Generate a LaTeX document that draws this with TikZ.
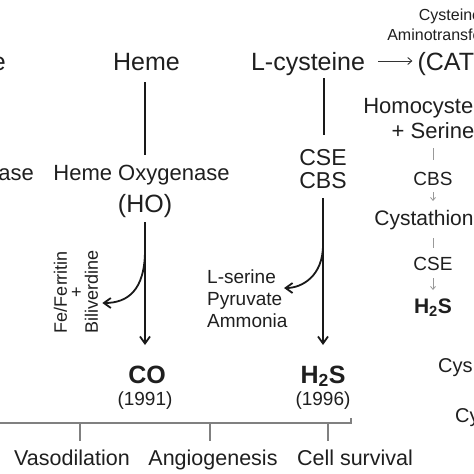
\documentclass[tikz,border=0pt]{standalone}
\usepackage{fontspec}
\setmainfont{Liberation Sans}
\usetikzlibrary{arrows.meta,calc}
\newcommand\fsz[1]{\fontsize{#1}{#1}\selectfont}
\begin{document}
\begin{tikzpicture}[x=1pt,y=-1pt,
  txt/.style={inner sep=0pt,anchor=base,text=black!88},
  mainline/.style={line width=1.8pt,black!90},
  arr/.style={-{Straight Barb[length=7pt,width=10pt]}},
  thinarr/.style={line width=0.9pt,black!80,-{Straight Barb[length=4pt,width=7pt]}},
  axisline/.style={line width=1.2pt,black!50},
  smallline/.style={line width=0.8pt,black!40},
  smallarr/.style={line width=0.8pt,black!40,-{Straight Barb[length=3pt,width=5pt]}}]
\useasboundingbox[fill=white] (0,0) rectangle (474,474);

% left column (cut)
\node[txt,font=\fsz{25},anchor=base east] (e) at (6,70) {e};
\node[txt,font=\fsz{22},anchor=base east] (ase) at (34,180) {ase};

% Heme column
\node[txt,font=\fsz{25}] (heme) at (146.5,70) {Heme};
\node[txt,font=\fsz{22}] (heox) at (141.5,180) {Heme Oxygenase};
\node[txt,font=\fsz{25}] (ho) at (145,212) {(HO)};
\node[txt,font=\bfseries\fsz{25}] (co) at (147,383) {CO};
\node[txt,font=\fsz{19}] (y1991) at (145,405) {(1991)};
\node[rotate=90,align=center,inner sep=0pt,text=black!88,font=\fontsize{18}{15.5}\selectfont] (fe) at (76,292) {Fe/Ferritin\\+\\Biliverdine};

\draw[mainline] ($(heme.base)+(-1.5,12)$) -- ($(heox.base -| ho.base)+(0,-25)$);
\draw[mainline,arr] ($(ho.base)+(0,10)$) -- ($(co.base -| ho.base)+(0,-38)$);
\coordinate (hob) at (145,250);
\draw[mainline,arr] (hob) .. controls (145,290) and (128,303) .. ($(fe.south)+(4,11)$);

% L-cysteine column
\node[txt,font=\fsz{25}] (lcys) at (308,70) {L-cysteine};
\node[txt,font=\fsz{23}] (cse) at (323,165) {CSE};
\node[txt,font=\fsz{23}] (cbs) at (323,188) {CBS};
\node[txt,font=\bfseries\fsz{25}] (hs) at (323,383) {H\textsubscript{2}S};
\node[txt,font=\fsz{19}] (y1996) at (323,405) {(1996)};
\node[txt,font=\fsz{19},anchor=base west] (ls1) at (207,283) {L-serine};
\node[txt,font=\fsz{19},anchor=base west] (ls2) at (207,305) {Pyruvate};
\node[txt,font=\fsz{19},anchor=base west] (ls3) at (207,327) {Ammonia};

\draw[mainline] ($(cse.base |- lcys.base)+(1,8)$) -- ($(cse.base)+(1,-30)$);
\draw[mainline,arr] ($(cbs.base)+(0,10)$) -- ($(hs.base)+(0,-38)$);
\coordinate (csb) at (323,245);
\draw[mainline,arr] (csb) .. controls (323,276) and (302,288) .. ($(ls1.base east)+(8,5)$);

% CAT
\node[txt,font=\fsz{16}] (cysn) at (450,20) {Cysteine};
\node[txt,font=\fsz{16}] (amt) at (450,40) {Aminotransferase};
\node[txt,font=\fsz{25}] (cat) at (450,70) {(CAT)};
\draw[thinarr] ($(lcys.base east)+(13,-9)$) -- ($(cat.base west)+(-5,-9)$);

% right pathway
\node[txt,font=\fsz{22}] (hcy) at (433,113) {Homocysteine};
\node[txt,font=\fsz{22}] (ser) at (433,138) {+ Serine};
\node[txt,font=\fsz{19}] (cbs2) at (433,185) {CBS};
\node[txt,font=\fsz{21}] (cth) at (438,225) {Cystathionine};
\node[txt,font=\fsz{19}] (cse2) at (433,270) {CSE};
\node[txt,font=\bfseries\fsz{21}] (hs2) at (433,313) {H\textsubscript{2}S};
\node[txt,font=\fsz{20},anchor=base west] (cysa) at (438,372) {Cys};
\node[txt,font=\fsz{20},anchor=base west] (cyb) at (455,422) {Cy};

\draw[smallline] ($(ser.base)+(0,10)$) -- ($(cbs2.base)+(0,-25)$);
\draw[smallarr] ($(cbs2.base)+(0,7)$) -- ($(cth.base -| cbs2.base)+(0,-24)$);
\draw[smallline] ($(cth.base -| cse2.base)+(0,13)$) -- ($(cse2.base)+(0,-22)$);
\draw[smallarr] ($(cse2.base)+(0,8)$) -- ($(hs2.base)+(0,-23)$);

% axis
\coordinate (ax0) at (0,423);
\coordinate (ax1) at (351,423);
\coordinate (t1) at (80,423);
\coordinate (t2) at (210,423);
\coordinate (t3) at (328,423);
\node[txt,font=\fsz{21.5}] (vaso) at (72,465) {Vasodilation};
\node[txt,font=\fsz{21.5}] (angio) at (213,465) {Angiogenesis};
\node[txt,font=\fsz{21.5}] (cell) at (355,465) {Cell survival};
\draw[axisline] (ax0) -- (ax1) -- ++(0,-5);
\draw[axisline] (t1) -- ++(0,18);
\draw[axisline] (t2) -- ++(0,18);
\draw[axisline] (t3) -- ++(0,18);
\end{tikzpicture}
\end{document}
